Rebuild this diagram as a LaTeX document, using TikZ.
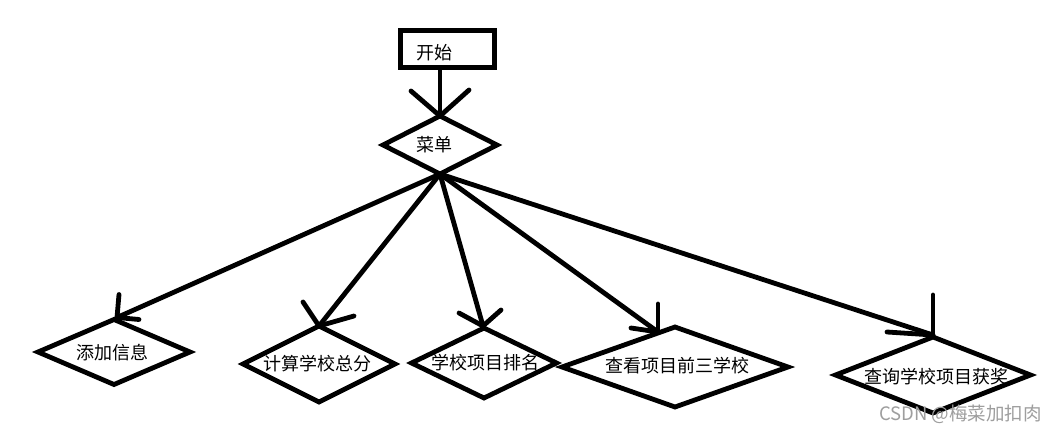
\documentclass[tikz,border=0pt]{standalone}
\usepackage{fontspec}
\newfontfamily\cjk{Noto Sans CJK SC}
\usetikzlibrary{shapes.geometric}
\begin{document}
\begin{tikzpicture}[x=1pt,y=-1pt, line width=4.8pt,
  dia/.style={shape=diamond, draw, inner sep=0pt, outer sep=0pt},
  lbl/.style={font=\cjk\fontsize{18}{21}\selectfont, inner sep=0pt},
  conn/.style={line cap=round},
  headstroke/.style={line cap=round},
  wmark/.style={font=\cjk\fontsize{18.5}{21}\selectfont, text=black!38, inner sep=0pt}]
\useasboundingbox[fill=white] (0,0) rectangle (1059,435);
% start box
\node[draw, minimum width=94pt, minimum height=37pt, inner sep=0pt, outer sep=0pt] (start) at (447.5,49) {};
\node[lbl] (tstart) at (434,53) {开始};
% menu
\node[dia, minimum width=114pt, minimum height=58pt] (menu) at (440,145) {};
\node[lbl] (tmenu) at (434,145) {菜单};
% leaves
\node[dia, minimum width=152pt, minimum height=65pt] (d1) at (114,352) {};
\node[lbl] (t1) at (112,353) {添加信息};
\node[dia, minimum width=152pt, minimum height=76pt] (d2) at (319,364) {};
\node[lbl] (t2) at (317,364) {计算学校总分};
\node[dia, minimum width=145pt, minimum height=70pt] (d3) at (484,363) {};
\node[lbl] (t3) at (485,363) {学校项目排名};
\node[dia, minimum width=226pt, minimum height=80pt] (d4) at (675,367) {};
\node[lbl] (t4) at (677,366) {查看项目前三学校};
\node[dia, minimum width=195pt, minimum height=76pt] (d5) at (933,375) {};
\node[lbl] (t5) at (936,377) {查询学校项目获奖};
% tip coordinates
\coordinate (tip0) at (menu.north);
\coordinate (tip1) at ([shift={(3,-2)}]d1.north);
\coordinate (tip2) at (d2.north);
\coordinate (tip3) at ([shift={(-1,-2)}]d3.north);
\coordinate (tip4) at ([shift={(-17,5)}]d4.north);
\coordinate (tip5) at ([shift={(0,-2)}]d5.north);
% connectors
\draw[conn] (menu.north |- start.south) -- (tip0);
\draw[conn] (menu.south) -- (tip1);
\draw[conn] (menu.south) -- (tip2);
\draw[conn] (menu.south) -- (tip3);
\draw[conn] (menu.south) -- (tip4);
\draw[conn] (menu.south) -- (tip5);
% hand-drawn arrowheads
\draw[headstroke] (tip0) -- ++(-29,-25);
\draw[headstroke] (tip0) -- ++(29,-26);
\draw[headstroke] (tip1) -- ++(2,-23);
\draw[headstroke] (tip1) -- ++(22,2);
\draw[headstroke] (tip2) -- ++(-16,-24);
\draw[headstroke] (tip2) -- ++(35,-10);
\draw[headstroke] (tip3) -- ++(-24,-13);
\draw[headstroke] (tip3) -- ++(18,-16);
\draw[headstroke] (tip4) -- ++(0,-28);
\draw[headstroke] (tip4) -- ++(-27,-4);
\draw[headstroke] (tip5) -- ++(0,-40);
\draw[headstroke] (tip5) -- ++(-46,-3);
% watermark
\node[wmark, anchor=east] (wm) at (1044,414) {CSDN @梅菜加扣肉};
\end{tikzpicture}
\end{document}
